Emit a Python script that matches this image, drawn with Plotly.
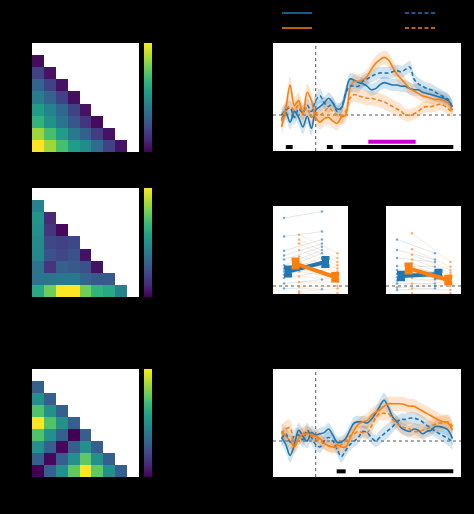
import plotly.graph_objects as go

W, H = 474, 514
BLUE = "#1f77b4"
ORANGE = "#ff7f0e"
N = None

# ---------------- heatmap data (9x9, strictly lower triangle) ----------------
HM1 = [
    [N, N, N, N, N, N, N, N, N],
    [0.03, N, N, N, N, N, N, N, N],
    [0.20, 0.05, N, N, N, N, N, N, N],
    [0.32, 0.20, 0.05, N, N, N, N, N, N],
    [0.42, 0.32, 0.20, 0.04, N, N, N, N, N],
    [0.55, 0.45, 0.33, 0.20, 0.05, N, N, N, N],
    [0.65, 0.50, 0.38, 0.27, 0.15, 0.03, N, N, N],
    [0.85, 0.70, 0.55, 0.40, 0.30, 0.18, 0.05, N, N],
    [1.00, 0.85, 0.70, 0.55, 0.48, 0.35, 0.20, 0.05, N],
]
HM2 = [
    [N, N, N, N, N, N, N, N, N],
    [0.45, N, N, N, N, N, N, N, N],
    [0.52, 0.12, N, N, N, N, N, N, N],
    [0.50, 0.15, 0.02, N, N, N, N, N, N],
    [0.48, 0.22, 0.20, 0.22, N, N, N, N, N],
    [0.47, 0.25, 0.22, 0.25, 0.05, N, N, N, N],
    [0.38, 0.15, 0.30, 0.28, 0.25, 0.05, N, N, N],
    [0.38, 0.38, 0.40, 0.40, 0.32, 0.28, 0.28, N, N],
    [0.60, 0.78, 1.00, 1.00, 0.78, 0.65, 0.60, 0.45, N],
]
HM3 = [
    [N, N, N, N, N, N, N, N, N],
    [0.30, N, N, N, N, N, N, N, N],
    [0.50, 0.30, N, N, N, N, N, N, N],
    [0.72, 0.50, 0.30, N, N, N, N, N, N],
    [1.00, 0.72, 0.50, 0.30, N, N, N, N, N],
    [0.72, 0.50, 0.30, 0.00, 0.30, N, N, N, N],
    [0.50, 0.30, 0.02, 0.30, 0.50, 0.30, N, N, N],
    [0.30, 0.02, 0.30, 0.50, 0.75, 0.50, 0.30, N, N],
    [0.00, 0.30, 0.50, 0.75, 1.00, 0.75, 0.50, 0.30, N],
]

# ---------------- time courses ----------------
T = [-0.4, -0.35, -0.3, -0.25, -0.2, -0.15, -0.1, -0.05, 0.0, 0.05, 0.1, 0.15, 0.2,
     0.25, 0.3, 0.35, 0.4, 0.45, 0.5, 0.55, 0.6, 0.65, 0.7, 0.75, 0.8, 0.85, 0.9,
     0.95, 1.0, 1.05, 1.1, 1.15, 1.2, 1.25, 1.3, 1.35, 1.4, 1.45, 1.5, 1.55, 1.6]

P1_BLUE_SOLID = [-0.04, 0.02, -0.06, 0.03, -0.02, -0.10, -0.01, -0.11, 0.04, 0.07, 0.10, 0.14, 0.10,
                 0.05, 0.06, 0.18, 0.30, 0.29, 0.27, 0.26, 0.24, 0.21, 0.22, 0.25, 0.27, 0.26, 0.25,
                 0.25, 0.24, 0.24, 0.22, 0.21, 0.21, 0.19, 0.18, 0.17, 0.16, 0.15, 0.14, 0.12, 0.07]
P1_ORANGE_SOLID = [-0.10, 0.05, 0.25, 0.08, 0.12, 0.00, 0.19, 0.12, -0.02, -0.06, -0.03, -0.02, -0.05,
                   -0.07, -0.02, 0.00, 0.22, 0.28, 0.28, 0.29, 0.32, 0.38, 0.43, 0.46, 0.48, 0.46, 0.40,
                   0.34, 0.30, 0.26, 0.22, 0.20, 0.18, 0.16, 0.15, 0.14, 0.13, 0.13, 0.12, 0.10, 0.04]
P1_BLUE_DASH = [0.00, 0.04, 0.06, -0.02, 0.05, 0.02, 0.08, 0.03, 0.12, 0.16, 0.10, 0.07, 0.10,
                0.03, 0.06, 0.18, 0.24, 0.24, 0.24, 0.28, 0.30, 0.32, 0.34, 0.35, 0.35, 0.35, 0.36,
                0.37, 0.36, 0.38, 0.40, 0.30, 0.26, 0.24, 0.22, 0.21, 0.19, 0.17, 0.15, 0.13, 0.06]
P1_ORANGE_DASH = [-0.05, 0.05, 0.07, 0.04, 0.08, 0.03, 0.06, -0.02, 0.02, 0.00, 0.03, 0.06, 0.03,
                  0.00, -0.01, 0.03, 0.14, 0.17, 0.16, 0.15, 0.14, 0.14, 0.13, 0.12, 0.11, 0.09, 0.07,
                  0.05, 0.03, 0.00, 0.00, 0.01, 0.03, 0.06, 0.07, 0.07, 0.08, 0.09, 0.08, 0.05, 0.03]
P1_SEM_BLUE = [0.06, 0.06, 0.06, 0.06, 0.06, 0.06, 0.06, 0.06, 0.06, 0.06, 0.05, 0.05, 0.05,
               0.05, 0.05, 0.05, 0.05, 0.05, 0.05, 0.05, 0.05, 0.05, 0.05, 0.05, 0.05, 0.05, 0.05,
               0.05, 0.05, 0.05, 0.05, 0.05, 0.05, 0.05, 0.05, 0.05, 0.05, 0.05, 0.05, 0.05, 0.05]
P1_SEM_ORANGE = [0.07, 0.07, 0.07, 0.07, 0.07, 0.07, 0.07, 0.07, 0.06, 0.06, 0.06, 0.06, 0.06,
                 0.06, 0.06, 0.06, 0.06, 0.06, 0.06, 0.06, 0.06, 0.06, 0.06, 0.06, 0.06, 0.06, 0.06,
                 0.06, 0.06, 0.05, 0.05, 0.05, 0.05, 0.05, 0.05, 0.05, 0.05, 0.05, 0.05, 0.05, 0.05]

P3_BLUE_SOLID = [0.03, -0.03, -0.12, -0.03, 0.09, 0.04, 0.00, 0.07, 0.05, 0.06, 0.07, 0.10, 0.05,
                 -0.01, -0.01, 0.02, 0.09, 0.15, 0.16, 0.16, 0.15, 0.18, 0.23, 0.29, 0.34, 0.28, 0.20,
                 0.16, 0.11, 0.09, 0.08, 0.10, 0.09, 0.06, 0.08, 0.09, 0.12, 0.12, 0.11, 0.09, 0.02]
P3_ORANGE_SOLID = [0.08, 0.04, 0.00, -0.05, 0.02, 0.06, 0.07, 0.05, 0.04, 0.02, -0.02, -0.04, -0.05,
                   -0.03, -0.05, -0.05, 0.02, 0.09, 0.14, 0.16, 0.17, 0.21, 0.24, 0.26, 0.29, 0.31, 0.31,
                   0.31, 0.31, 0.30, 0.29, 0.29, 0.27, 0.25, 0.23, 0.21, 0.19, 0.17, 0.16, 0.15, 0.09]
P3_BLUE_DASH = [0.02, 0.06, -0.01, 0.04, 0.05, 0.01, 0.09, 0.03, -0.03, -0.05, 0.00, 0.03, 0.00,
                -0.07, -0.13, -0.08, -0.03, 0.00, 0.03, 0.08, 0.07, 0.03, 0.00, 0.03, 0.06, 0.09, 0.12,
                0.16, 0.18, 0.18, 0.19, 0.19, 0.18, 0.16, 0.13, 0.11, 0.08, 0.06, 0.04, 0.02, -0.01]
P3_ORANGE_DASH = [0.06, 0.10, 0.11, -0.04, 0.03, 0.05, 0.06, 0.04, 0.03, 0.00, -0.02, -0.04, -0.05,
                  -0.05, -0.03, 0.00, 0.04, 0.06, 0.08, 0.07, 0.07, 0.12, 0.19, 0.23, 0.23, 0.23, 0.18,
                  0.15, 0.12, 0.11, 0.10, 0.08, 0.08, 0.09, 0.10, 0.12, 0.14, 0.15, 0.15, 0.16, 0.12]
P3_SEM_BLUE = [0.06, 0.06, 0.06, 0.06, 0.06, 0.06, 0.06, 0.06, 0.05, 0.05, 0.05, 0.05, 0.05,
               0.05, 0.05, 0.05, 0.05, 0.05, 0.05, 0.05, 0.05, 0.05, 0.05, 0.06, 0.06, 0.06, 0.05,
               0.05, 0.05, 0.05, 0.05, 0.05, 0.05, 0.05, 0.05, 0.05, 0.05, 0.05, 0.05, 0.06, 0.06]
P3_SEM_ORANGE = [0.07, 0.07, 0.07, 0.06, 0.06, 0.06, 0.06, 0.05, 0.05, 0.05, 0.05, 0.05, 0.05,
                 0.05, 0.05, 0.05, 0.05, 0.05, 0.05, 0.05, 0.06, 0.06, 0.06, 0.06, 0.06, 0.06, 0.06,
                 0.06, 0.06, 0.06, 0.06, 0.06, 0.06, 0.06, 0.06, 0.06, 0.06, 0.06, 0.06, 0.06, 0.06]

# significance bars: (start, end)
P1_SIG = [(-0.35, -0.27), (0.13, 0.20), (0.30, 1.61)]
P1_SIG_INTERACTION = [(0.615, 1.17)]
P3_SIG = [(0.245, 0.35), (0.506, 1.61)]

# ---------------- paired data (middle row) ----------------
ML_BLUE_PRE = [0.85, 0.62, 0.44, 0.38, 0.33, 0.26, 0.22, 0.18, 0.14, 0.10, 0.03, -0.03]
ML_BLUE_POST = [0.93, 0.68, 0.58, 0.53, 0.49, 0.45, 0.41, 0.35, 0.24, 0.18, 0.08, -0.04]
ML_ORANGE_PRE = [0.64, 0.58, 0.53, 0.45, 0.37, 0.30, 0.24, 0.18, 0.12, 0.05, -0.01, -0.07, -0.09]
ML_ORANGE_POST = [0.41, 0.35, 0.30, 0.26, 0.22, 0.18, 0.14, 0.10, 0.08, 0.05, 0.00, -0.03, -0.09]
ML_BLUE_MEAN = [0.18, 0.30]
ML_BLUE_SEM = [0.05, 0.05]
ML_ORANGE_MEAN = [0.28, 0.11]
ML_ORANGE_SEM = [0.05, 0.04]

MR_BLUE_PRE = [0.58, 0.45, 0.35, 0.25, 0.20, 0.15, 0.11, 0.07, 0.03, -0.02, -0.05]
MR_BLUE_POST = [0.41, 0.33, 0.30, 0.24, 0.18, 0.14, 0.11, 0.08, 0.03, 0.00, -0.03]
MR_ORANGE_PRE = [0.66, 0.46, 0.39, 0.33, 0.28, 0.24, 0.20, 0.16, 0.10, 0.03, -0.03, -0.09]
MR_ORANGE_POST = [0.30, 0.24, 0.20, 0.17, 0.14, 0.11, 0.08, 0.04, 0.02, 0.00, -0.05, -0.09]
MR_BLUE_MEAN = [0.125, 0.15]
MR_BLUE_SEM = [0.04, 0.04]
MR_ORANGE_MEAN = [0.22, 0.075]
MR_ORANGE_SEM = [0.05, 0.04]

LEGEND_NAMES = ["A: c1", "B: c1", "A: c2", "B: c2"]

# ---------------- figure ----------------
fig = go.Figure()


def fx(px):
    return px / W


def fy(py):
    return 1 - py / H


HM_X = [fx(32), fx(139)]
HM_Y = [[fy(152), fy(43)], [fy(297), fy(188)], [fy(477), fy(369)]]
TS_X = [fx(273), fx(461)]
TS1_Y = [fy(151), fy(43)]
TS3_Y = [fy(477), fy(369)]
MID_Y = [fy(294), fy(206)]
ML_X = [fx(273), fx(348)]
MR_X = [fx(386), fx(461)]

# heatmaps
for i, (z, yd) in enumerate(zip([HM1, HM2, HM3], HM_Y)):
    n = i + 1
    sfx = "" if n == 1 else str(n)
    ca = "coloraxis" + sfx
    fig.add_trace(go.Heatmap(z=z, coloraxis=ca, xaxis="x" + sfx, yaxis="y" + sfx, hoverongaps=False))
    fig.layout["xaxis" + sfx] = dict(domain=HM_X, range=[-0.5, 8.5], showgrid=False,
                                     zeroline=False, showticklabels=False, ticks="",
                                     anchor="y" + sfx)
    fig.layout["yaxis" + sfx] = dict(domain=yd, range=[8.5, -0.5], showgrid=False,
                                     zeroline=False, showticklabels=False, ticks="",
                                     anchor="x" + sfx)
    fig.layout[ca] = dict(cmin=0, cmax=1, colorscale="Viridis",
                          colorbar=dict(x=fx(144), xanchor="left", xpad=0, ypad=0, thickness=8,
                                        len=yd[1] - yd[0], lenmode="fraction",
                                        y=(yd[0] + yd[1]) / 2, yanchor="middle", outlinewidth=0,
                                        tickfont=dict(color="black", size=9)))


def add_band(xa, ya, mean, sem, color_rgba):
    lo = [m - s for m, s in zip(mean, sem)]
    hi = [m + s for m, s in zip(mean, sem)]
    fig.add_trace(go.Scatter(x=T, y=lo, mode="lines", line=dict(width=0, shape="spline"),
                             showlegend=False, hoverinfo="skip", xaxis=xa, yaxis=ya))
    fig.add_trace(go.Scatter(x=T, y=hi, mode="lines", line=dict(width=0, shape="spline"),
                             fill="tonexty", fillcolor=color_rgba, showlegend=False,
                             hoverinfo="skip", xaxis=xa, yaxis=ya))


BLUE_FILL = "rgba(31,119,180,0.2)"
ORANGE_FILL = "rgba(255,127,14,0.2)"
DASH = "4px,2.5px"

for (xa, ya, bs, os_, bd, od, sb, so) in [
    ("x4", "y4", P1_BLUE_SOLID, P1_ORANGE_SOLID, P1_BLUE_DASH, P1_ORANGE_DASH, P1_SEM_BLUE, P1_SEM_ORANGE),
    ("x7", "y7", P3_BLUE_SOLID, P3_ORANGE_SOLID, P3_BLUE_DASH, P3_ORANGE_DASH, P3_SEM_BLUE, P3_SEM_ORANGE),
]:
    add_band(xa, ya, bs, sb, BLUE_FILL)
    add_band(xa, ya, os_, so, ORANGE_FILL)
    add_band(xa, ya, bd, sb, BLUE_FILL)
    add_band(xa, ya, od, so, ORANGE_FILL)
    first = xa == "x4"
    for vals, col, dash, name, lg in [
        (bs, BLUE, "solid", LEGEND_NAMES[0], "legend"),
        (os_, ORANGE, "solid", LEGEND_NAMES[1], "legend2"),
        (bd, BLUE, DASH, LEGEND_NAMES[2], "legend3"),
        (od, ORANGE, DASH, LEGEND_NAMES[3], "legend4"),
    ]:
        fig.add_trace(go.Scatter(x=T, y=vals, mode="lines", name=name, legend=lg,
                                 line=dict(color=col, width=1.6, dash=dash, shape="spline",
                                           smoothing=1.0),
                                 showlegend=first, xaxis=xa, yaxis=ya))

# significance bars
for xa, ya, sigs, yv, col in [("x4", "y4", P1_SIG, -0.267, "black"),
                              ("x4", "y4", P1_SIG_INTERACTION, -0.222, "rgb(204,0,204)"),
                              ("x7", "y7", P3_SIG, -0.253, "black")]:
    for a, b in sigs:
        fig.add_trace(go.Scatter(x=[a, b], y=[yv, yv], mode="lines",
                                 line=dict(color=col, width=4), showlegend=False,
                                 hoverinfo="skip", xaxis=xa, yaxis=ya))

# middle paired plots
POS = dict(bpre=0.147, opre=0.347, bpost=0.653, opost=0.86,
           mbpre=0.20, mopre=0.30, mbpost=0.70, mopost=0.83)
for xa, ya, bpre, bpost, opre, opost, bm, bsem, om, osem in [
    ("x5", "y5", ML_BLUE_PRE, ML_BLUE_POST, ML_ORANGE_PRE, ML_ORANGE_POST,
     ML_BLUE_MEAN, ML_BLUE_SEM, ML_ORANGE_MEAN, ML_ORANGE_SEM),
    ("x6", "y6", MR_BLUE_PRE, MR_BLUE_POST, MR_ORANGE_PRE, MR_ORANGE_POST,
     MR_BLUE_MEAN, MR_BLUE_SEM, MR_ORANGE_MEAN, MR_ORANGE_SEM),
]:
    for a, b in zip(bpre, bpost):
        fig.add_trace(go.Scatter(x=[POS["bpre"], POS["bpost"]], y=[a, b], mode="lines+markers",
                                 line=dict(color="rgba(150,170,190,0.35)", width=0.8),
                                 marker=dict(color="rgba(31,119,180,0.6)", size=2.5),
                                 showlegend=False, xaxis=xa, yaxis=ya))
    for a, b in zip(opre, opost):
        fig.add_trace(go.Scatter(x=[POS["opre"], POS["opost"]], y=[a, b], mode="lines+markers",
                                 line=dict(color="rgba(240,180,130,0.35)", width=0.8),
                                 marker=dict(color="rgba(255,127,14,0.6)", size=2.5),
                                 showlegend=False, xaxis=xa, yaxis=ya))
    fig.add_trace(go.Scatter(x=[POS["mbpre"], POS["mbpost"]], y=bm, mode="lines+markers",
                             line=dict(color=BLUE, width=4),
                             marker=dict(color=BLUE, size=7, symbol="square"),
                             error_y=dict(type="data", array=bsem, color=BLUE, thickness=4, width=4),
                             showlegend=False, xaxis=xa, yaxis=ya))
    fig.add_trace(go.Scatter(x=[POS["mopre"], POS["mopost"]], y=om, mode="lines+markers",
                             line=dict(color=ORANGE, width=4),
                             marker=dict(color=ORANGE, size=7, symbol="square"),
                             error_y=dict(type="data", array=osem, color=ORANGE, thickness=4, width=4),
                             showlegend=False, xaxis=xa, yaxis=ya))

tick_font = dict(color="black", size=9)
common = dict(showgrid=False, zeroline=False, showline=False, ticks="", tickfont=tick_font)
fig.update_layout(
    xaxis4=dict(domain=TS_X, range=[-0.5, 1.7], anchor="y4", **common),
    yaxis4=dict(domain=TS1_Y, range=[-0.3, 0.6], anchor="x4", **common),
    xaxis7=dict(domain=TS_X, range=[-0.5, 1.7], anchor="y7", **common),
    yaxis7=dict(domain=TS3_Y, range=[-0.3, 0.6], anchor="x7", **common),
    xaxis5=dict(domain=ML_X, range=[0, 1], anchor="y5", showticklabels=False, **common),
    yaxis5=dict(domain=MID_Y, range=[-0.1, 1.0], anchor="x5", **common),
    xaxis6=dict(domain=MR_X, range=[0, 1], anchor="y6", showticklabels=False, **common),
    yaxis6=dict(domain=MID_Y, range=[-0.1, 1.0], anchor="x6", **common),
)

shapes = []
for xa, ya in [("x4", "y4"), ("x7", "y7")]:
    shapes.append(dict(type="line", xref=xa, yref=f"{ya} domain", x0=0, x1=0, y0=0, y1=1,
                       line=dict(color="#555", width=1, dash="dot"), layer="below"))
for xa, ya in [("x4", "y4"), ("x7", "y7"), ("x5", "y5"), ("x6", "y6")]:
    shapes.append(dict(type="line", xref=f"{xa} domain", yref=ya, x0=0, x1=1, y0=0, y1=0,
                       line=dict(color="#555", width=1, dash="dot"), layer="below"))

leg = dict(xanchor="left", yanchor="middle", bgcolor="rgba(0,0,0,0)",
           font=dict(size=8, color="black"), tracegroupgap=0, itemwidth=30, traceorder="normal")
fig.update_layout(
    width=W, height=H, margin=dict(l=0, r=0, t=0, b=0, autoexpand=False),
    paper_bgcolor="black", plot_bgcolor="white",
    font=dict(family="DejaVu Sans", color="black", size=9),
    shapes=shapes,
    legend=dict(x=fx(277), y=fy(13), **leg),
    legend2=dict(x=fx(277), y=fy(28), **leg),
    legend3=dict(x=fx(400), y=fy(13), **leg),
    legend4=dict(x=fx(400), y=fy(28), **leg),
)

fig.write_html("out.html", config={"displayModeBar": False})

# remove the browser's default page margin so the figure fills the window
with open("out.html", "r", encoding="utf-8") as f:
    html = f.read()
html = html.replace("<head>", "<head><style>html,body{margin:0;padding:0;background:#000;overflow:hidden}</style>", 1)
with open("out.html", "w", encoding="utf-8") as f:
    f.write(html)
